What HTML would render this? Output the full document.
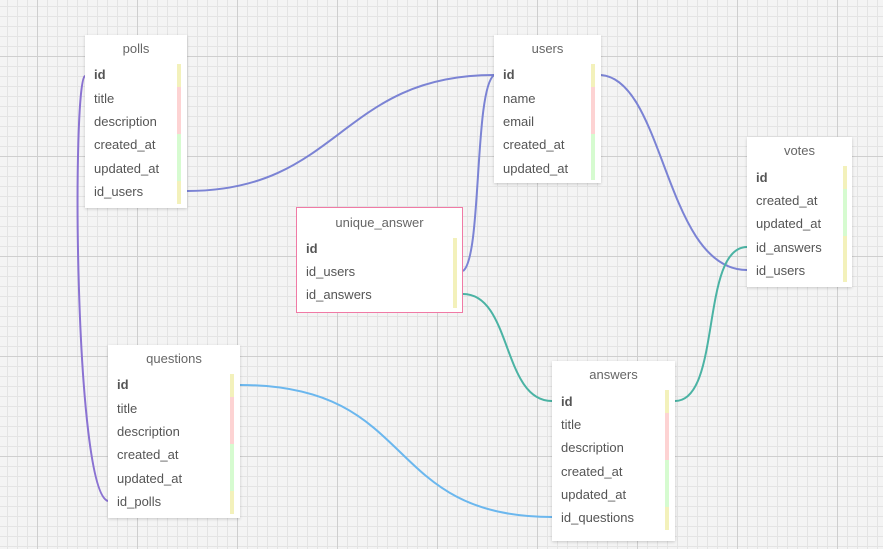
<!DOCTYPE html>
<html><head><meta charset="utf-8"><style>
body{margin:0;width:883px;height:549px;overflow:hidden;font-family:"Liberation Sans",sans-serif;
background-color:#f4f4f4;
background-image:linear-gradient(#cfcfcf 1px,transparent 1px),linear-gradient(90deg,#cfcfcf 1px,transparent 1px),linear-gradient(#e4e4e4 1px,transparent 1px),linear-gradient(90deg,#e4e4e4 1px,transparent 1px);
background-size:100px 100px,100px 100px,10px 10px,10px 10px;
background-position:0 56px,37px 0,0 6px,7px 0;position:relative}
.t{position:absolute;background:#fff;box-shadow:0 1px 3px rgba(0,0,0,.18);color:#555;font-size:13px}
.t .h{text-align:center;color:#666;height:28px;line-height:28px}
.r{position:absolute;left:9px}
.b{position:absolute;width:4px}
svg{position:absolute;left:0;top:0}
</style></head><body>
<svg width="883" height="549" fill="none" stroke-width="2">
<path d="M85,76 C72,80 74,492 108,501" stroke="#8a72d2"/>
<path d="M187,191 C340,191 340,75 494,75" stroke="#7b83d4"/>
<path d="M463,271 C482,258 474,90 494,75" stroke="#7b83d4"/>
<path d="M601,75 C665,80 665,270 747,270" stroke="#7b83d4"/>
<path d="M463,294 C512,294 502,401 552,401" stroke="#4bb3a4"/>
<path d="M675,401 C722,401 700,247 747,247" stroke="#4bb3a4"/>
<path d="M240,385 C420,385 380,517 552,517" stroke="#6bb7ee"/>
</svg>

<div class="t" style="left:85px;top:35px;width:102px;height:173px">
<div class="h">polls</div>
<div class="b" style="left:92px;top:29px;height:23px;background:#f3f1bb"></div>
<div class="b" style="left:92px;top:52px;height:47px;background:#fdd3d3"></div>
<div class="b" style="left:92px;top:99px;height:47px;background:#d6fbd0"></div>
<div class="b" style="left:92px;top:146px;height:23px;background:#f3f1bb"></div>
<div class="r" style="top:32px;font-weight:bold">id</div>
<div class="r" style="top:56px">title</div>
<div class="r" style="top:79px">description</div>
<div class="r" style="top:102px">created_at</div>
<div class="r" style="top:126px">updated_at</div>
<div class="r" style="top:149px">id_users</div>
</div>

<div class="t" style="left:494px;top:35px;width:107px;height:148px">
<div class="h">users</div>
<div class="b" style="left:97px;top:29px;height:23px;background:#f3f1bb"></div>
<div class="b" style="left:97px;top:52px;height:47px;background:#fdd3d3"></div>
<div class="b" style="left:97px;top:99px;height:46px;background:#d6fbd0"></div>
<div class="r" style="top:32px;font-weight:bold">id</div>
<div class="r" style="top:56px">name</div>
<div class="r" style="top:79px">email</div>
<div class="r" style="top:102px">created_at</div>
<div class="r" style="top:126px">updated_at</div>
</div>

<div class="t" style="left:747px;top:137px;width:105px;height:150px">
<div class="h">votes</div>
<div class="b" style="left:96px;top:29px;height:23px;background:#f3f1bb"></div>
<div class="b" style="left:96px;top:52px;height:47px;background:#d6fbd0"></div>
<div class="b" style="left:96px;top:99px;height:46px;background:#f3f1bb"></div>
<div class="r" style="top:33px;font-weight:bold">id</div>
<div class="r" style="top:56px">created_at</div>
<div class="r" style="top:79px">updated_at</div>
<div class="r" style="top:103px">id_answers</div>
<div class="r" style="top:126px">id_users</div>
</div>

<div class="t" style="left:296px;top:207px;width:165px;height:104px;border:1px solid #f07aa5;box-shadow:none">
<div class="h" style="height:30px;line-height:30px">unique_answer</div>
<div class="b" style="left:156px;top:30px;height:70px;background:#f3f1bb"></div>
<div class="r" style="top:33px;font-weight:bold">id</div>
<div class="r" style="top:56px">id_users</div>
<div class="r" style="top:79px">id_answers</div>
</div>

<div class="t" style="left:108px;top:345px;width:132px;height:173px">
<div class="h">questions</div>
<div class="b" style="left:122px;top:29px;height:23px;background:#f3f1bb"></div>
<div class="b" style="left:122px;top:52px;height:47px;background:#fdd3d3"></div>
<div class="b" style="left:122px;top:99px;height:47px;background:#d6fbd0"></div>
<div class="b" style="left:122px;top:146px;height:23px;background:#f3f1bb"></div>
<div class="r" style="top:32px;font-weight:bold">id</div>
<div class="r" style="top:56px">title</div>
<div class="r" style="top:79px">description</div>
<div class="r" style="top:102px">created_at</div>
<div class="r" style="top:126px">updated_at</div>
<div class="r" style="top:149px">id_polls</div>
</div>

<div class="t" style="left:552px;top:361px;width:123px;height:180px">
<div class="h">answers</div>
<div class="b" style="left:113px;top:29px;height:23px;background:#f3f1bb"></div>
<div class="b" style="left:113px;top:52px;height:47px;background:#fdd3d3"></div>
<div class="b" style="left:113px;top:99px;height:47px;background:#d6fbd0"></div>
<div class="b" style="left:113px;top:146px;height:23px;background:#f3f1bb"></div>
<div class="r" style="top:33px;font-weight:bold">id</div>
<div class="r" style="top:56px">title</div>
<div class="r" style="top:79px">description</div>
<div class="r" style="top:103px">created_at</div>
<div class="r" style="top:126px">updated_at</div>
<div class="r" style="top:149px">id_questions</div>
</div>
</body></html>
